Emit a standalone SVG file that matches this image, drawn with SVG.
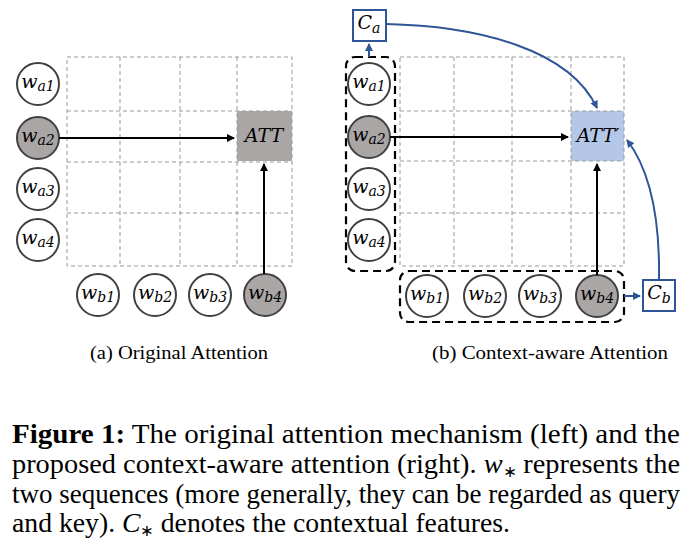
<svg xmlns="http://www.w3.org/2000/svg" width="692" height="544" viewBox="0 0 692 544">
<defs>
<marker id="ak" markerWidth="8" markerHeight="8" refX="7" refY="4" orient="auto" markerUnits="userSpaceOnUse"><path d="M0,0 L8,4 L0,8 z" fill="#000"/></marker>
<marker id="ab" markerWidth="8" markerHeight="8" refX="7" refY="4" orient="auto" markerUnits="userSpaceOnUse"><path d="M0,0 L8,4 L0,8 z" fill="#2f5597"/></marker>
</defs>
<style>
.g{fill:none;stroke:#999;stroke-width:1;stroke-dasharray:4,3}
.c{fill:#fff;stroke:#404040;stroke-width:2}
.cg{fill:#aaa6a6;stroke:#404040;stroke-width:2}
.m{font-family:"DejaVu Serif","Liberation Serif",serif;font-style:italic;font-size:19px;fill:#000}
.s{font-family:"DejaVu Serif",serif;font-size:14px}
.cap{font-family:"Liberation Serif",serif;font-size:18px;fill:#000}
.t{font-family:"Liberation Serif",serif;font-size:27px;fill:#000}
.dr{fill:none;stroke:#000;stroke-width:2.2;stroke-dasharray:8,5}
.bx{fill:#fff;stroke:#2f5597;stroke-width:2}
.bl{fill:none;stroke:#2f5597;stroke-width:2}
</style>
<g id="left-grid">
<rect x="237" y="111" width="55" height="50" fill="#aaa6a6"/>
<path class="g" d="M67,57H292V266H67Z M120,57V266 M180,57V266 M237,57V266 M67,111H292 M67,162H292 M67,213H292"/>
<text x="264" y="142" text-anchor="middle" class="m" font-size="17">ATT</text>
</g>
<g id="left-nodes">
<g id="wa1"><circle class="c" cx="38" cy="84" r="21"/><text class="m" x="38" y="88" text-anchor="middle">w<tspan class="s" dy="3">a1</tspan></text></g>
<g id="wa2"><circle class="cg" cx="38" cy="138" r="21"/><text class="m" x="38" y="142" text-anchor="middle">w<tspan class="s" dy="3">a2</tspan></text></g>
<g id="wa3"><circle class="c" cx="38" cy="189" r="21"/><text class="m" x="38" y="193" text-anchor="middle">w<tspan class="s" dy="3">a3</tspan></text></g>
<g id="wa4"><circle class="c" cx="38" cy="240" r="21"/><text class="m" x="38" y="244" text-anchor="middle">w<tspan class="s" dy="3">a4</tspan></text></g>
<g id="wb1"><circle class="c" cx="98" cy="295" r="21"/><text class="m" x="98" y="299" text-anchor="middle">w<tspan class="s" dy="3">b1</tspan></text></g>
<g id="wb2"><circle class="c" cx="155" cy="295" r="21"/><text class="m" x="155" y="299" text-anchor="middle">w<tspan class="s" dy="3">b2</tspan></text></g>
<g id="wb3"><circle class="c" cx="210" cy="295" r="21"/><text class="m" x="210" y="299" text-anchor="middle">w<tspan class="s" dy="3">b3</tspan></text></g>
<g id="wb4"><circle class="cg" cx="265" cy="295" r="21"/><text class="m" x="265" y="299" text-anchor="middle">w<tspan class="s" dy="3">b4</tspan></text></g>
</g>
<g id="right-grid">
<rect x="571" y="111" width="53" height="50" fill="#b4c7e7"/>
<path class="g" d="M400,57H624V266H400Z M454,57V266 M512,57V266 M571,57V266 M400,111H624 M400,161H624 M400,213H624"/>
<text x="598" y="142" text-anchor="middle" class="m" font-size="17" fill="#2f5597">ATT′</text>
</g>
<g id="groups">
<rect class="dr" x="346" y="57" width="49" height="214" rx="9"/>
<rect class="dr" x="400" y="271" width="224" height="51" rx="9"/>
</g>
<g id="right-nodes">
<g id="ra1"><circle class="c" cx="369" cy="84" r="21"/><text class="m" x="369" y="88" text-anchor="middle">w<tspan class="s" dy="3">a1</tspan></text></g>
<g id="ra2"><circle class="cg" cx="369" cy="137" r="21"/><text class="m" x="369" y="141" text-anchor="middle">w<tspan class="s" dy="3">a2</tspan></text></g>
<g id="ra3"><circle class="c" cx="369" cy="189" r="21"/><text class="m" x="369" y="193" text-anchor="middle">w<tspan class="s" dy="3">a3</tspan></text></g>
<g id="ra4"><circle class="c" cx="369" cy="240" r="21"/><text class="m" x="369" y="244" text-anchor="middle">w<tspan class="s" dy="3">a4</tspan></text></g>
<g id="rb1"><circle class="c" cx="427" cy="296" r="21"/><text class="m" x="427" y="300" text-anchor="middle">w<tspan class="s" dy="3">b1</tspan></text></g>
<g id="rb2"><circle class="c" cx="485" cy="296" r="21"/><text class="m" x="485" y="300" text-anchor="middle">w<tspan class="s" dy="3">b2</tspan></text></g>
<g id="rb3"><circle class="c" cx="540" cy="296" r="21"/><text class="m" x="540" y="300" text-anchor="middle">w<tspan class="s" dy="3">b3</tspan></text></g>
<g id="rb4"><circle class="cg" cx="597" cy="296" r="21"/><text class="m" x="597" y="300" text-anchor="middle">w<tspan class="s" dy="3">b4</tspan></text></g>
<g id="Ca"><rect class="bx" x="353" y="10" width="33" height="31"/><text class="m" x="369" y="29" text-anchor="middle" fill="#2f5597">C<tspan class="s" dy="4">a</tspan></text></g>
<g id="Cb"><rect class="bx" x="643" y="280" width="32" height="31"/><text class="m" x="659" y="299" text-anchor="middle" fill="#2f5597">C<tspan class="s" dy="4">b</tspan></text></g>
</g>
<g id="connectors">
<line x1="59" y1="138" x2="234" y2="138" stroke="#000" stroke-width="2" marker-end="url(#ak)"/>
<line x1="264" y1="274" x2="264" y2="164" stroke="#000" stroke-width="2" marker-end="url(#ak)"/>
<line x1="390" y1="137" x2="568" y2="137" stroke="#000" stroke-width="2" marker-end="url(#ak)"/>
<line x1="597" y1="275" x2="597" y2="164" stroke="#000" stroke-width="2" marker-end="url(#ak)"/>
<line class="bl" x1="369" y1="57" x2="369" y2="44" marker-end="url(#ab)"/>
<path class="bl" d="M386,24 C480,26 570,50 597,108" marker-end="url(#ab)"/>
<line class="bl" x1="624" y1="296" x2="640" y2="296" marker-end="url(#ab)"/>
<path class="bl" d="M659,280 C660,220 650,170 627,140" marker-end="url(#ab)"/>
</g>
<g id="captions">
<text class="cap" x="90" y="359" textLength="178" lengthAdjust="spacingAndGlyphs">(a) Original Attention</text>
<text class="cap" x="432" y="359" textLength="236" lengthAdjust="spacingAndGlyphs">(b) Context-aware Attention</text>
</g>
<g id="figure-caption">
<text class="t" x="12" y="443" textLength="668" lengthAdjust="spacingAndGlyphs"><tspan font-weight="bold">Figure 1:</tspan> The original attention mechanism (left) and the</text>
<text class="t" x="12" y="473" textLength="668" lengthAdjust="spacingAndGlyphs">proposed context-aware attention (right). <tspan font-style="italic">w</tspan><tspan font-size="16" dy="4">∗</tspan><tspan dy="-4"> represents the</tspan></text>
<text class="t" x="12" y="503" textLength="668" lengthAdjust="spacingAndGlyphs">two sequences (more generally, they can be regarded as query</text>
<text class="t" x="12" y="532" textLength="498" lengthAdjust="spacingAndGlyphs">and key). <tspan font-style="italic">C</tspan><tspan font-size="16" dy="4">∗</tspan><tspan dy="-4"> denotes the contextual features.</tspan></text>
</g>
</svg>
